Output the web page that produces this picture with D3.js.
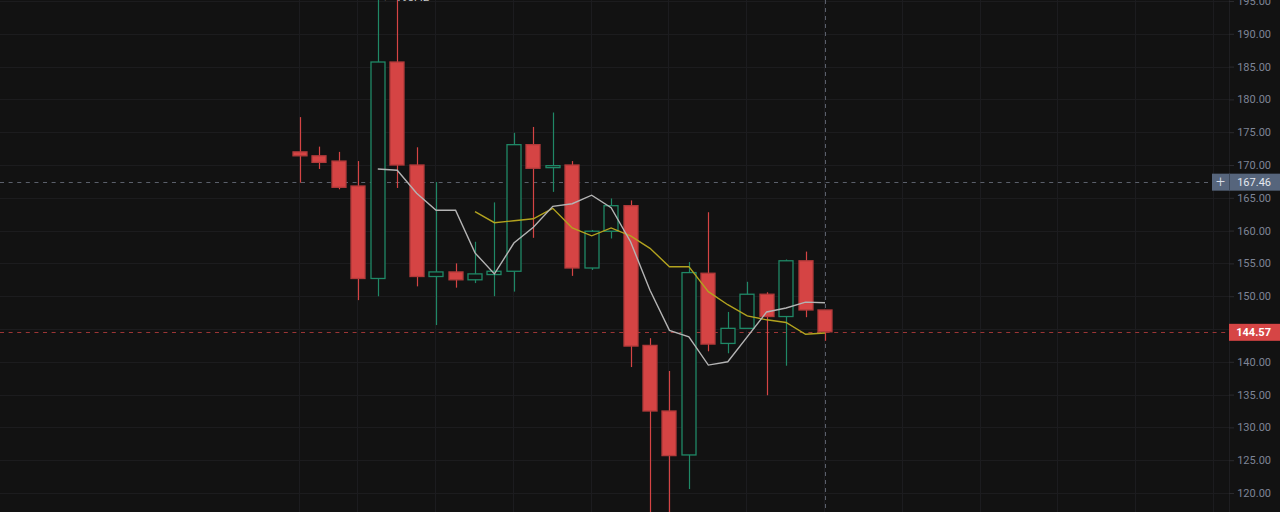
<!DOCTYPE html>
<html>
<head>
<meta charset="utf-8">
<script src="https://cdn.jsdelivr.net/npm/d3@7"></script>
<style>
  html, body { margin: 0; padding: 0; background: #121212; }
  svg { display: block; }
</style>
</head>
<body>
<svg id="chart" width="1280" height="512"></svg>
<script>
// ---- data ----
const opens  = [172.0,171.4,170.6,166.8,152.7,185.7,170.0,153.0,153.7,152.5,153.3,153.8,173.1,169.6,170.0,154.3,159.9,163.8,142.5,132.5,125.8,153.5,142.8,145.1,150.3,146.9,155.4,147.9];
const highs  = [177.3,172.8,172.0,170.6,198.4,197.0,172.7,167.4,155.0,158.3,164.3,174.9,175.8,178.0,170.6,160.1,164.9,164.6,143.6,138.6,155.2,162.8,147.6,152.2,150.6,155.6,156.8,147.9];
const lows   = [167.3,169.4,166.3,149.4,150.0,166.5,151.5,145.6,151.3,152.0,150.0,150.7,158.9,165.9,153.1,154.0,158.8,139.2,115.0,115.0,120.6,141.6,141.3,145.1,134.9,139.4,146.8,143.2];
const closes = [171.4,170.4,166.6,152.7,185.7,170.0,153.0,153.7,152.5,153.4,153.8,173.1,169.5,169.9,154.3,159.9,163.8,142.4,132.5,125.7,153.6,142.7,145.1,150.3,146.9,155.4,147.9,144.57];
// MA5 (white) from candle index 4, MA10 (yellow) from candle index 9
const ma5  = [169.4,169.2,165.7,163.1,163.1,156.6,153.4,158.1,160.5,163.7,164.1,165.4,163.5,158.3,150.9,144.8,143.8,139.5,140.0,143.8,147.6,148.2,149.1,149.0];
const ma10 = [162.9,161.2,161.5,161.8,163.4,160.4,159.2,160.4,159.2,157.3,154.5,154.5,150.7,148.7,147.0,146.4,146.0,144.2,144.4];
const ma5Start = 4, ma10Start = 9;
const priceTicks = [195,190,185,180,175,170,165,160,155,150,145,140,135,130,125,120];
const timeGridIdx = [0, 3, 7, 11, 15, 19, 23, 27, 31, 35, 39, 43, 47];
const crossPrice = 167.46;
const lastPrice = 144.57;
const highLabel = "\u2190 198.42";

// ---- layout ----
const W = 1280, H = 512;
const plotRight = 1229;
const svg = d3.select("#chart");
svg.append("rect").attr("width", W).attr("height", H).attr("fill", "#121212");

const x = d3.scaleLinear().domain([0, 27]).range([300, 825]);
const y = d3.scaleLinear().domain([195, 120]).range([1, 493]);
const bodyW = 15;

// grid
const grid = svg.append("g");
grid.selectAll("line.h").data(priceTicks).join("line")
  .attr("x1", 0).attr("x2", plotRight)
  .attr("y1", d => Math.round(y(d)) + 0.5).attr("y2", d => Math.round(y(d)) + 0.5)
  .attr("stroke", "#1c1c1e").attr("stroke-width", 1);
grid.selectAll("line.v").data(timeGridIdx.filter(d => x(d) < plotRight)).join("line")
  .attr("x1", d => Math.round(x(d === 0 ? -0.05 : d - 0.05)) + 0.5)
  .attr("x2", d => Math.round(x(d === 0 ? -0.05 : d - 0.05)) + 0.5)
  .attr("y1", 0).attr("y2", H)
  .attr("stroke", "#1c1c1f").attr("stroke-width", 1);
svg.append("line").attr("x1", plotRight + 0.5).attr("x2", plotRight + 0.5)
  .attr("y1", 0).attr("y2", H).attr("stroke", "#1e1e21");

// crosshair horizontal (gray dashed)
svg.append("line").attr("x1", 0).attr("x2", 1212)
  .attr("y1", Math.round(y(crossPrice)) + 0.5).attr("y2", Math.round(y(crossPrice)) + 0.5)
  .attr("stroke", "#5b606b").attr("stroke-width", 1.2).attr("stroke-dasharray", "4,4.6");
// crosshair vertical
svg.append("line").attr("x1", Math.round(x(27)) + 0.5).attr("x2", Math.round(x(27)) + 0.5)
  .attr("y1", 0).attr("y2", H)
  .attr("stroke", "#5b606b").attr("stroke-width", 1).attr("stroke-dasharray", "4,4");
// last price line (red dashed)
svg.append("line").attr("x1", 0).attr("x2", plotRight)
  .attr("y1", Math.round(y(lastPrice)) + 0.5).attr("y2", Math.round(y(lastPrice)) + 0.5)
  .attr("stroke", "#9b3535").attr("stroke-width", 1.2).attr("stroke-dasharray", "4,4.6");

// candles
const data = opens.map((o, i) => ({i, o, h: highs[i], l: lows[i], c: closes[i]}));
const red = "#d54444", redStroke = "#b13a3a", green = "#1f8866";
const cg = svg.append("g");
cg.selectAll("line.wick").data(data).join("line")
  .attr("x1", d => Math.round(x(d.i)) + 0.5).attr("x2", d => Math.round(x(d.i)) + 0.5)
  .attr("y1", d => y(d.h)).attr("y2", d => y(d.l))
  .attr("stroke", d => d.c >= d.o ? green : red).attr("stroke-width", 1.2);
cg.selectAll("rect.body").data(data).join("rect")
  .attr("x", d => Math.round(x(d.i)) - bodyW / 2 + 0.5)
  .attr("y", d => y(Math.max(d.o, d.c)))
  .attr("width", bodyW - 1)
  .attr("height", d => Math.max(1.5, Math.abs(y(d.o) - y(d.c))))
  .attr("fill", d => d.c >= d.o ? "#121212" : red)
  .attr("stroke", d => d.c >= d.o ? green : redStroke)
  .attr("stroke-width", 1.3);

// moving averages
const line = d3.line().x(d => x(d[0])).y(d => y(d[1]));
svg.append("path").datum(ma10.map((v, k) => [k + ma10Start, v]))
  .attr("d", line).attr("fill", "none").attr("stroke", "#b3a31f").attr("stroke-width", 1.4);
svg.append("path").datum(ma5.map((v, k) => [k + ma5Start, v]))
  .attr("d", line).attr("fill", "none").attr("stroke", "#b4b4b4").attr("stroke-width", 1.4);

// high label (mostly clipped at top, as in the reference)
svg.append("text").attr("x", x(4) + 4).attr("y", 1)
  .attr("fill", "#c8c8c8").attr("font-family", "Roboto, sans-serif").attr("font-size", 11)
  .text(highLabel);

// price axis (labels hidden behind the price boxes are omitted, as in the reference)
const cy = y(crossPrice), ly = y(lastPrice);
const visibleTicks = priceTicks.filter(v => Math.abs(y(v) - ly) > 9 && Math.abs(y(v) - cy) > 9);
const ax = svg.append("g").attr("transform", `translate(${plotRight},0)`);
const axis = d3.axisRight(y).tickValues(visibleTicks).tickSize(5).tickPadding(6).tickFormat(d3.format(".2f"));
ax.call(axis);
ax.select(".domain").remove();
ax.selectAll(".tick line").attr("stroke", "#2a2a2e");
ax.selectAll(".tick text").attr("fill", "#7e8496").attr("font-family", "Roboto, sans-serif")
  .attr("font-size", 11).attr("text-anchor", "end").attr("x", 42);

// crosshair price label
svg.append("rect").attr("x", 1212).attr("y", cy - 8).attr("width", 68).attr("height", 17).attr("fill", "#56657c");
svg.append("line").attr("x1", 1229.5).attr("x2", 1229.5).attr("y1", cy - 8).attr("y2", cy + 9).attr("stroke", "#3e4a5c");
svg.append("text").attr("x", 1220.5).attr("y", cy + 5).attr("text-anchor", "middle")
  .attr("fill", "#d8dde6").attr("font-family", "Roboto, sans-serif").attr("font-size", 16).attr("font-weight", 300).text("+");
svg.append("text").attr("x", 1271).attr("y", cy + 4).attr("text-anchor", "end")
  .attr("fill", "#e4e8ef").attr("font-family", "Roboto, sans-serif").attr("font-size", 11).text(crossPrice.toFixed(2));

// last price label
svg.append("rect").attr("x", 1229).attr("y", ly - 8).attr("width", 51).attr("height", 17).attr("fill", "#d64545");
svg.append("text").attr("x", 1271).attr("y", ly + 4).attr("text-anchor", "end")
  .attr("fill", "#ffffff").attr("font-family", "Roboto, sans-serif").attr("font-size", 11).attr("font-weight", 700)
  .text(lastPrice.toFixed(2));
</script>
</body>
</html>
